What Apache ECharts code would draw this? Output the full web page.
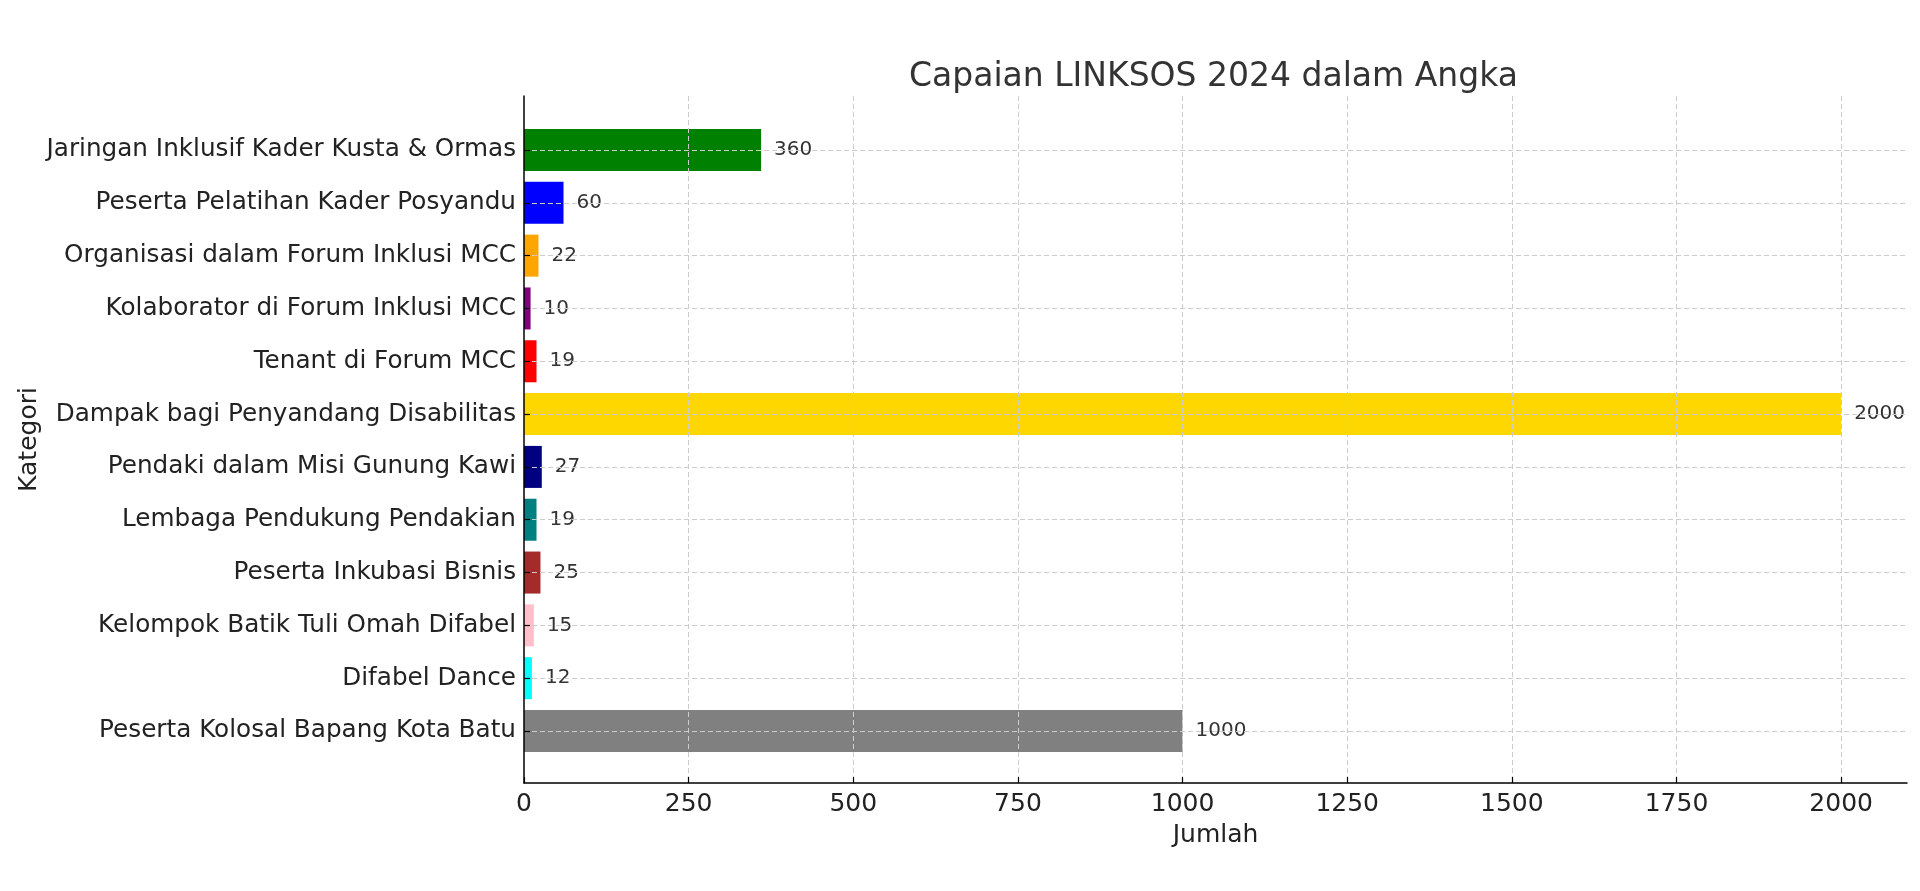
<!DOCTYPE html>
<html>
<head>
<meta charset="UTF-8">
<title>Capaian LINKSOS 2024 dalam Angka</title>
<script src="https://cdn.jsdelivr.net/npm/echarts@6/dist/echarts.min.js"></script>
<style>
  html, body { margin: 0; padding: 0; background: #fff; }
  #main { width: 1920px; height: 891px; }
</style>
</head>
<body>
<div id="main"></div>
<script type="text/javascript">
// data, top to bottom as in the picture
var categories = [
  'Jaringan Inklusif Kader Kusta & Ormas',
  'Peserta Pelatihan Kader Posyandu',
  'Organisasi dalam Forum Inklusi MCC',
  'Kolaborator di Forum Inklusi MCC',
  'Tenant di Forum MCC',
  'Dampak bagi Penyandang Disabilitas',
  'Pendaki dalam Misi Gunung Kawi',
  'Lembaga Pendukung Pendakian',
  'Peserta Inkubasi Bisnis',
  'Kelompok Batik Tuli Omah Difabel',
  'Difabel Dance',
  'Peserta Kolosal Bapang Kota Batu'
];
var values = [360, 60, 22, 10, 19, 2000, 27, 19, 25, 15, 12, 1000];
var barColors = ['#008000', '#0000ff', '#ffa500', '#800080', '#ff0000', '#ffd700',
                 '#000080', '#008080', '#a52a2a', '#ffc0cb', '#00ffff', '#808080'];
var xTicks = [0, 250, 500, 750, 1000, 1250, 1500, 1750, 2000];

var font = 'DejaVu Sans';
// vertical grid colours; the 0 line sits on the spine and 2100 is the edge
var gridColors = ['rgba(0,0,0,0)'];
for (var i = 1; i < xTicks.length; i++) gridColors.push('#cccccc');
gridColors.push('rgba(0,0,0,0)');

var myChart = echarts.init(document.getElementById('main'));

var option = {
  animation: false,
  backgroundColor: '#ffffff',
  title: {
    text: 'Capaian LINKSOS 2024 dalam Angka',
    left: 904,
    top: 56,
    textStyle: { fontFamily: font, fontSize: 33, fontWeight: 'normal', color: '#333333' }
  },
  grid: [
    // bars: categories centred on the first and last bar
    { left: 524, right: 13, top: 150, bottom: 160 },
    // frame: spines, x ticks, vertical grid
    { left: 524, right: 13, top: 96, bottom: 108 }
  ],
  xAxis: [
    { type: 'value', gridIndex: 0, min: 0, max: 2100, show: false },
    {
      type: 'value', gridIndex: 1, min: 0, max: 2100, interval: 250, z: 3,
      name: 'Jumlah', nameLocation: 'middle', nameGap: 40,
      nameTextStyle: { fontFamily: font, fontSize: 25, color: '#222222' },
      axisLine: { show: true, lineStyle: { color: '#000000', width: 1.5 } },
      axisTick: { show: true, inside: true, length: 6, customValues: xTicks,
                  lineStyle: { color: '#000000', width: 1.2 } },
      axisLabel: {
        customValues: xTicks, margin: 9, fontFamily: font, fontSize: 25, color: '#222222',
        formatter: function (v) { return String(v); }
      },
      splitLine: { show: true, lineStyle: { color: gridColors, type: [5, 3], width: 1 } }
    }
  ],
  yAxis: [
    {
      type: 'category', gridIndex: 0, data: categories, inverse: true, boundaryGap: false, z: 3,
      axisLine: { show: false },
      axisTick: { show: true, inside: true, length: 6, lineStyle: { color: '#000000', width: 1.2 } },
      axisLabel: { margin: 8, fontFamily: font, fontSize: 24.7, color: '#222222' },
      splitLine: { show: true, lineStyle: { color: '#cccccc', type: [5, 3], width: 1 } }
    },
    {
      type: 'value', gridIndex: 1, min: 0, max: 1, z: 4,
      name: 'Kategori', nameLocation: 'middle', nameGap: 482,
      nameTextStyle: { fontFamily: font, fontSize: 25, color: '#222222' },
      axisLine: { show: true, lineStyle: { color: '#000000', width: 1.5 } },
      axisTick: { show: false },
      axisLabel: { show: false },
      splitLine: { show: false }
    }
  ],
  series: [{
    type: 'bar',
    xAxisIndex: 0,
    yAxisIndex: 0,
    barWidth: 42,
    clip: false,
    data: values.map(function (v, i) {
      return { value: v, itemStyle: { color: barColors[i] } };
    }),
    label: {
      show: true,
      position: 'right',
      distance: 13,
      fontFamily: font,
      fontSize: 20,
      color: '#333333'
    }
  }]
};

myChart.setOption(option);
</script>
</body>
</html>
